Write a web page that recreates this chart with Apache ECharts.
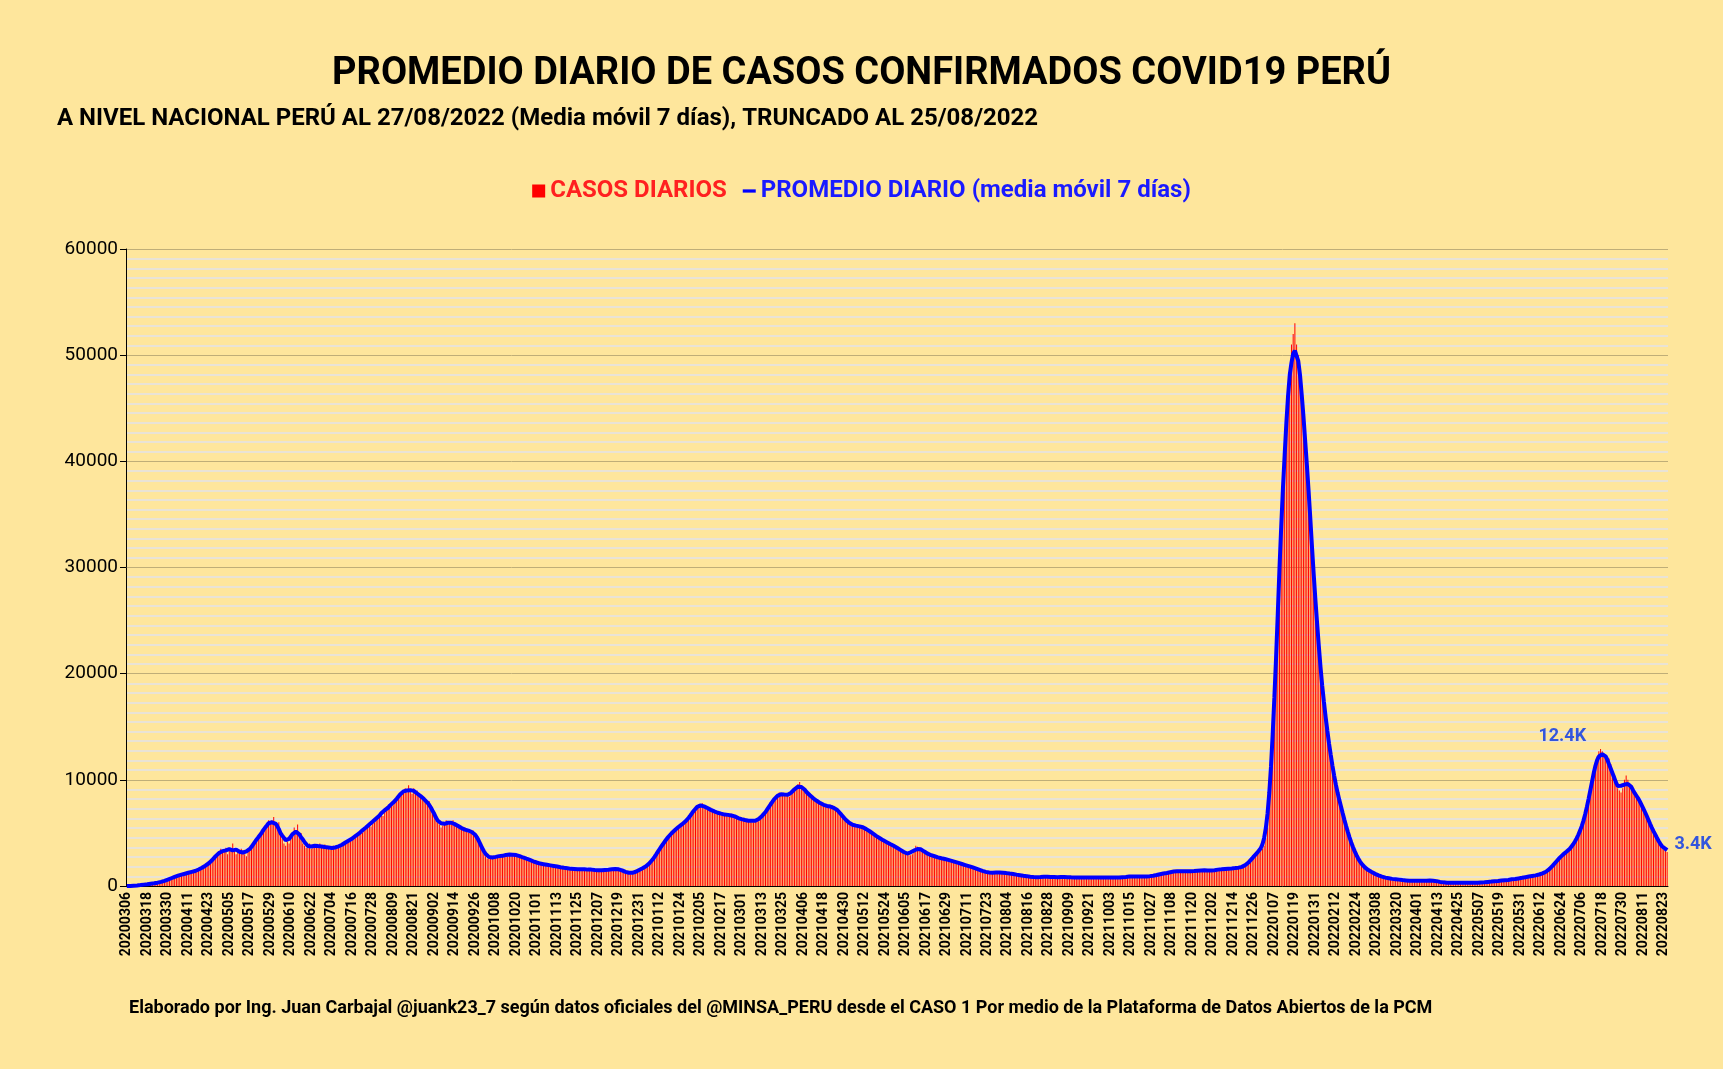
<!DOCTYPE html>
<html><head><meta charset="utf-8">
<script src="https://cdn.jsdelivr.net/npm/echarts@6/dist/echarts.min.js"></script>
<style>html,body{margin:0;padding:0;background:#fee69c}#c{width:1723px;height:1069px}</style>
</head><body><div id="c"></div>
<script>
const startDate = '2020-03-06';
// daily cases, in hundreds, one row per week starting 2020-03-06
const casosCientos = [
0,0,0,0,0,0,1, 1,1,1,1,1,2,2, 2,2,3,3,3,3,4, 4,5,5,6,7,7,8,
9,9,10,10,11,11,12, 12,13,12,13,14,14,15, 15,16,17,18,19,20,22, 22,24,25,28,30,33,35,
32,34,36,30,33,35,40, 35,30,32,33,35,31,30, 28,32,34,38,40,42,44, 45,48,50,52,55,58,62,
60,62,65,58,55,60,52, 45,40,38,42,40,45,50, 55,52,58,48,50,40,38, 36,38,40,35,37,39,36,
38,40,37,36,39,35,36, 34,36,38,35,37,36,38, 38,40,42,41,43,45,44, 45,47,48,50,52,50,55,
55,58,60,56,62,60,64, 65,68,70,66,72,75,74, 75,78,76,80,82,85,86, 88,90,92,88,95,90,87,
92,88,90,85,86,82,80, 82,78,80,76,72,68,62, 60,58,55,57,60,62,58, 60,58,62,60,57,55,56,
54,52,55,53,50,52,51, 52,50,48,45,40,35,30, 28,26,27,26,27,28,27, 27,28,29,28,30,29,28,
30,31,29,30,30,28,29, 27,26,27,25,26,25,24, 23,22,22,21,22,21,20, 20,21,19,20,19,19,18,
18,19,17,18,17,17,16, 16,17,16,16,15,16,16, 16,15,16,16,15,16,15, 15,16,15,14,15,15,14,
15,16,15,16,15,16,16, 16,17,16,15,14,13,12, 12,11,12,13,13,14,15, 16,17,18,18,19,20,22,
25,28,30,32,35,37,40, 42,45,46,48,50,52,53, 54,55,57,58,60,60,62, 63,65,68,72,75,76,77,
76,78,75,74,73,72,72, 70,71,70,69,68,68,67, 68,67,66,67,68,66,66, 65,64,63,62,62,63,62,
62,61,60,60,62,63,61, 63,65,68,70,72,74,76, 80,82,85,86,88,87,86, 87,86,85,84,86,88,92,
94,96,98,95,92,90,88, 86,85,84,83,82,80,78, 78,77,76,76,75,75,73, 76,75,74,72,70,68,66,
64,62,60,59,58,57,57, 56,57,57,56,55,55,54, 53,52,50,49,48,47,46, 45,44,43,42,41,40,40,
39,38,37,36,35,34,33, 32,31,30,29,29,30,35, 38,37,36,35,33,32,31, 30,30,29,28,28,27,27,
27,26,26,25,25,25,24, 24,23,23,22,22,21,21, 20,20,19,19,18,18,17, 17,16,15,15,14,14,13,
13,12,12,12,13,13,13, 13,13,12,12,12,12,12, 12,11,11,11,10,10,10, 10,9,9,9,9,9,8,
8,8,8,8,9,9,9, 9,9,8,8,8,8,9, 9,8,8,9,9,8,8, 8,8,8,8,8,8,8,
8,8,8,8,8,8,8, 8,8,8,8,8,8,8, 8,8,8,8,8,8,8, 8,8,8,8,9,9,9,
9,9,9,9,9,9,9, 9,9,9,9,9,9,10, 10,10,11,11,11,12,12, 12,13,13,13,14,14,14,
14,14,14,14,14,14,14, 14,14,14,14,14,15,15, 15,15,15,15,14,14,15, 15,15,15,16,16,16,16,
16,16,16,17,17,17,17, 17,17,18,18,19,20,22, 24,26,28,30,32,34,35, 35,38,45,55,75,100,130,
170,210,260,300,340,390,430, 440,460,480,510,520,530,510, 500,480,470,450,430,400,370, 340,320,300,270,240,220,200,
185,170,160,145,135,120,110, 100,95,88,80,75,68,62, 56,50,45,40,36,32,28, 26,23,20,18,17,16,15,
14,13,12,11,11,10,9, 9,8,8,7,7,7,7, 7,6,6,6,6,6,5, 5,5,5,5,5,5,5,
5,5,5,5,5,5,5, 5,5,6,5,4,4,4, 4,3,3,3,3,3,3, 3,3,3,3,3,3,3,
3,3,3,3,3,3,3, 3,3,3,3,4,4,4, 4,4,4,4,5,5,5, 5,5,5,6,6,6,6,
6,7,7,7,7,8,8, 8,9,9,9,9,10,10, 10,11,11,12,12,13,14, 15,17,19,21,23,25,27,
28,30,31,32,34,35,36, 38,40,44,48,52,56,60, 65,70,80,90,100,110,115, 122,127,129,127,124,121,119,
120,115,105,98,95,92,90, 88,92,100,104,100,95,92, 90,88,85,82,80,78,75, 70,65,62,58,55,52,48,
45,42,40,36,34,33,32
];
const casos = casosCientos.map(v => v * 100);
const fechas = [];
{ const d = new Date(startDate + 'T00:00:00Z');
  for (let i = 0; i < casos.length; i++) {
    const t = new Date(d.getTime() + i * 86400000);
    fechas.push(t.getUTCFullYear() + String(t.getUTCMonth()+1).padStart(2,'0') + String(t.getUTCDate()).padStart(2,'0'));
  } }
const promedio = casos.map((v, i) => {
  let s = 0, n = 0;
  for (let k = i - 3; k <= i + 3; k++) { if (k >= 0 && k < casos.length) { s += casos[k]; n++; } }
  return Math.round(s / n);
});
let iMax = casos.length - 60;
for (let i = casos.length - 60; i < casos.length; i++) if (promedio[i] > promedio[iMax]) iMax = i;
const iLast = promedio.length - 1;
const lblStyle = {color: '#3355dd', fontFamily: 'Roboto', fontSize: 18, fontWeight: 'bold'};
const chart = echarts.init(document.getElementById('c'));
chart.setOption({
  backgroundColor: '#fee69c',
  animation: false,
  title: [
    {text: 'PROMEDIO DIARIO DE CASOS CONFIRMADOS COVID19 PERÚ', left: 'center', top: 50,
     textStyle: {fontFamily: 'Roboto', fontSize: 38, fontWeight: 'bold', color: '#000'}},
    {text: 'A NIVEL NACIONAL PERÚ AL 27/08/2022 (Media móvil 7 días), TRUNCADO AL 25/08/2022', left: 52, top: 102,
     textStyle: {fontFamily: 'Roboto', fontSize: 24, fontWeight: 'bold', color: '#000'}},
    {text: 'Elaborado por Ing. Juan Carbajal @juank23_7 según datos oficiales del @MINSA_PERU desde el CASO 1 Por medio de la Plataforma de Datos Abiertos de la PCM',
     left: 124, top: 994, textStyle: {fontFamily: 'Roboto', fontSize: 18, fontWeight: 'bold', color: '#000'}}
  ],
  legend: {top: 174, left: 'center', itemGap: 16, itemWidth: 13, itemHeight: 13,
    textStyle: {fontFamily: 'Roboto', fontSize: 24, fontWeight: 'bold'},
    data: [
      {name: 'CASOS DIARIOS', icon: 'rect', itemStyle: {color: '#ff0000'}, textStyle: {color: '#ff2020'}},
      {name: 'PROMEDIO DIARIO (media móvil 7 días)', icon: 'path://M0,5h12v3h-12z', textStyle: {color: '#1a1aff'}}
    ]},
  grid: {left: 126, right: 55, top: 249, bottom: 183},
  xAxis: {type: 'category', data: fechas, boundaryGap: true,
    axisLine: {lineStyle: {color: '#000'}}, axisTick: {show: false},
    axisLabel: {interval: 11, rotate: 90, fontFamily: 'Roboto', fontSize: 14, fontWeight: 'bold', color: '#000', margin: 6}},
  yAxis: {type: 'value', min: 0, max: 60000, interval: 10000,
    axisLine: {show: true, lineStyle: {color: '#000'}}, axisTick: {show: true, length: 6, lineStyle: {color: '#000'}},
    axisLabel: {fontFamily: 'Roboto', fontSize: 19, color: '#000', formatter: v => String(v)},
    splitLine: {lineStyle: {color: '#bfae78'}},
    minorTick: {show: false, splitNumber: 11},
    minorSplitLine: {show: true, lineStyle: {color: '#e2e2e8', width: 1.5}}},
  series: [
    {name: 'CASOS DIARIOS', type: 'bar', data: casos, barCategoryGap: '45%', itemStyle: {color: '#ff0000'}},
    {name: 'PROMEDIO DIARIO (media móvil 7 días)', type: 'line', data: promedio, symbol: 'none', smooth: false,
     lineStyle: {color: '#0000ff', width: 4}, itemStyle: {color: '#0000ff'},
     markPoint: {symbol: 'circle', symbolSize: 1, itemStyle: {color: 'rgba(0,0,0,0)'},
       data: [
         {coord: [iMax, promedio[iMax]], label: {show: true, offset: [-40, -18], formatter: (promedio[iMax]/1000).toFixed(1) + 'K', ...lblStyle}},
         {coord: [iLast, promedio[iLast]], label: {show: true, offset: [26, -6], formatter: (promedio[iLast]/1000).toFixed(1) + 'K', ...lblStyle}}
       ]}}
  ]
});
</script></body></html>
